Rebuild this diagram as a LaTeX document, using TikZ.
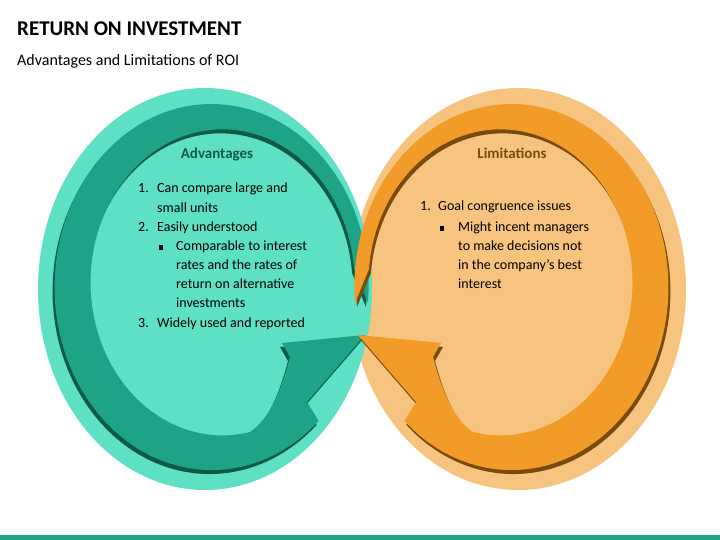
\documentclass[tikz,border=0pt]{standalone}
\usepackage{fontspec}
\setmainfont{Carlito}
\definecolor{tlight}{HTML}{5DE0C4}
\definecolor{tband}{HTML}{1FA386}
\definecolor{tdark}{HTML}{0E5A47}
\definecolor{olight}{HTML}{F7C47F}
\definecolor{oband}{HTML}{F29B28}
\definecolor{odark}{HTML}{7A4A0A}
\begin{document}
\begin{tikzpicture}[x=1pt,y=-1pt,
  body/.style={anchor=base west,inner sep=0pt,font=\fontsize{14}{16}\selectfont,text=black},
  bul/.style={anchor=base west,inner sep=0pt},
  head/.style={anchor=base,inner sep=0pt,font=\fontsize{15}{17}\selectfont\bfseries}]
\useasboundingbox (0,0) rectangle (720,540);
\fill[white] (0,0) rectangle (720,540);
\node[anchor=base west,inner sep=0pt,font=\fontsize{21}{24}\selectfont\bfseries] (title) at (17,36) {RETURN ON INVESTMENT};
\node[anchor=base west,inner sep=0pt,font=\fontsize{16}{19}\selectfont] (sub) at (17,66) {Advantages and Limitations of ROI};
\fill[tband] (0,535) rectangle (720,540);
% ellipses
\fill[olight] (518,289) ellipse[x radius=168,y radius=201];
\fill[tlight] (205,289) ellipse[x radius=167,y radius=201];
\def\band#1{%
\fill[#1] (368,303) arc[start angle=5,end angle=-313,x radius=157,y radius=183]
  -- (307,402) -- (365,335) -- (282,343) -- (290,357)
  .. controls (280,395) and (268,420) .. (250,432)
  arc[start angle=78,end angle=355,x radius=132,y radius=153] -- cycle;}
\begin{scope}[shift={(-2,4)}]\band{tdark}\end{scope}
\band{tband}
\begin{scope}[xshift=723pt,xscale=-1]
\begin{scope}[shift={(-2,4)}]\band{odark}\end{scope}
\band{oband}
\end{scope}
% texts
\node[head,text=tdark] (adv) at (217,159) {Advantages};
\node[body] (a1n) at (138,193) {1.};
\node[body] (a1) at (157,193) {Can compare large and};
\node[body] (a1b) at (157,212) {small units};
\node[body] (a2n) at (138,231) {2.};
\node[body] (a2) at (157,231) {Easily understood};
\node[bul] (ab) at (159,250) {\rule{4pt}{5pt}};
\node[body] (a3) at (176,250) {Comparable to interest};
\node[body] (a4) at (176,269) {rates and the rates of};
\node[body] (a5) at (176,288) {return on alternative};
\node[body] (a6) at (176,307) {investments};
\node[body] (a7n) at (138,327) {3.};
\node[body] (a7) at (157,327) {Widely used and reported};
\node[head,text=odark] (lim) at (512,159) {Limitations};
\node[body] (l1n) at (420,211) {1.};
\node[body] (l1) at (438,211) {Goal congruence issues};
\node[bul] (lb) at (440,231) {\rule{4pt}{5pt}};
\node[body] (l2) at (458,231) {Might incent managers};
\node[body] (l3) at (458,250) {to make decisions not};
\node[body] (l4) at (458,269) {in the company’s best};
\node[body] (l5) at (458,288) {interest};
\end{tikzpicture}
\end{document}
